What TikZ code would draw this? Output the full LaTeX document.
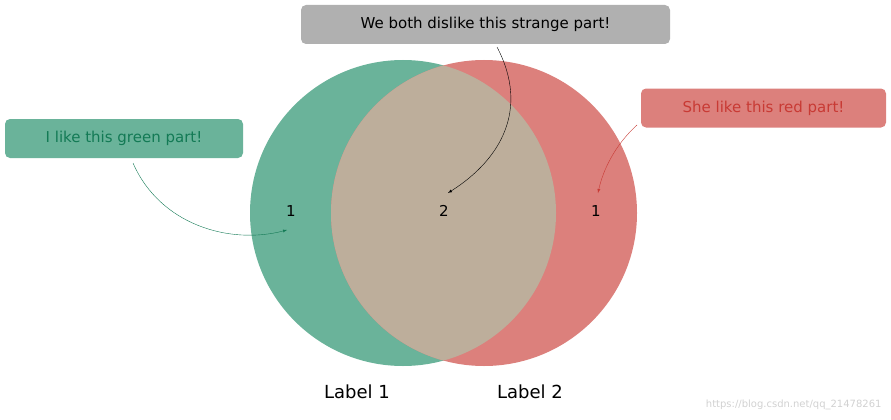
\documentclass[tikz,border=0pt]{standalone}
\usepackage{fontspec}
\setmainfont{DejaVu Sans}
\begin{document}
\begin{tikzpicture}[x=1pt,y=-1pt,
  callout/.style={rounded corners=5pt,inner sep=0pt,minimum height=39pt,font=\fontsize{15}{15}\selectfont},
  num/.style={font=\fontsize{15}{15}\selectfont},
  lab/.style={font=\fontsize{18}{18}\selectfont}]
\definecolor{gA}{HTML}{6AB39A}
\definecolor{rA}{HTML}{DC807C}
\definecolor{mA}{HTML}{BDAE9B}
\definecolor{gT}{HTML}{137A55}
\definecolor{rT}{HTML}{C83A34}
\useasboundingbox (0,0) rectangle (891,420);
\fill[gA] (403,213) circle (153);
\fill[rA] (484,213) circle (153);
\begin{scope}
\clip (403,213) circle (153);
\fill[mA] (484,213) circle (153);
\end{scope}
\node[num] (n1) at (291,211) {1};
\node[num] (n2) at (444,211) {2};
\node[num] (n3) at (596,211) {1};
\node[lab] (l1) at (357,392) {Label 1};
\node[lab] (l2) at (530,392) {Label 2};
\node[callout,fill=black!31,minimum width=369pt] (cg) at (485.5,24.5) {We both dislike this strange part!};
\node[callout,fill=gA,text=gT,minimum width=238pt] (cl) at (124,138.5) {I like this green part!};
\node[callout,fill=rA,text=rT,minimum width=245pt] (cr) at (763.5,108) {She like this red part!};
\coordinate (ga) at (133,163); \coordinate (gb) at (287,230);
\coordinate (ma) at (497,47); \coordinate (mb) at (448,193);
\coordinate (ra) at (637,125); \coordinate (rb) at (598,193);
\draw[gT,-latex,thin] (ga) .. controls (160,225) and (230,245) .. (gb);
\draw[black,-latex,thin] (ma) .. controls (530,110) and (500,160) .. (mb);
\draw[rT,-latex,thin] (ra) .. controls (615,145) and (603,170) .. (rb);
\node[text=black!18,font=\fontsize{10}{10}\selectfont,anchor=east] (wm) at (885,405) {https://blog.csdn.net/qq\_21478261};
\end{tikzpicture}
\end{document}
